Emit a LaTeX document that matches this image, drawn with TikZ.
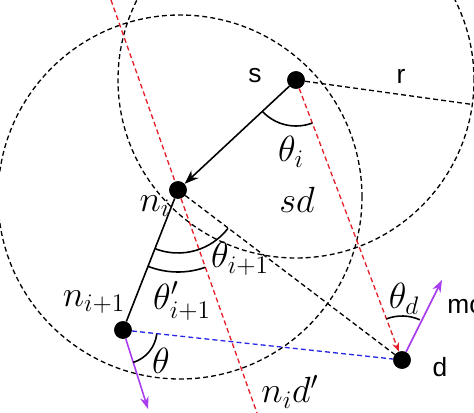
\documentclass[tikz,border=0pt]{standalone}
\usepackage{fontspec}
\newfontfamily\sansf{Liberation Sans}
\usetikzlibrary{arrows.meta,calc}
\definecolor{redl}{RGB}{230,30,40}
\definecolor{bluel}{RGB}{40,40,230}
\definecolor{purp}{RGB}{170,60,240}
\tikzset{
  circ/.style={draw=black,line width=0.75pt,dash pattern=on 2.8pt off 1.8pt},
  blkdash/.style={draw=black,line width=0.75pt,dash pattern=on 2.8pt off 1.8pt},
  reddash/.style={draw=redl,line width=0.75pt,dash pattern=on 2.8pt off 1.8pt},
  bluedash/.style={draw=bluel,line width=0.75pt,dash pattern=on 2.8pt off 1.8pt},
  purparrow/.style={draw=purp,line width=0.9pt,-{Stealth[length=7pt,width=5pt]}},
  solidline/.style={draw=black,line width=0.9pt},
  anglearc/.style={draw=black,line width=0.9pt},
  dot/.style={circle,fill=black,minimum size=10pt,inner sep=0pt},
  mlabel/.style={font=\fontsize{20}{23}\selectfont,inner sep=0pt},
  slabel/.style={font=\sansf\fontsize{15}{18}\selectfont,inner sep=0pt},
}
\begin{document}
\begin{tikzpicture}[x=0.02cm,y=0.02cm]
\useasboundingbox (0,0) rectangle (474,413);
\clip (0,0) rectangle (474,413);
% key points
\coordinate (s) at (296,333);
\coordinate (ni) at (178,223);
\coordinate (nip) at (123,83);
\coordinate (d) at (402,53);
\coordinate (cbig) at (180,216);
\coordinate (ntop) at (111,413);
\coordinate (nbot) at (257,0);
\coordinate (rend) at ($(s)+(-7.9:178)$);
\coordinate (pnip) at (148,4);
\coordinate (pd) at (442,133);
% dots (named nodes)
\node[dot] (sdot) at (s) {};
\node[dot] (nidot) at (ni) {};
\node[dot] (nipdot) at (nip) {};
\node[dot] (ddot) at (d) {};
% circles
\draw[circ] (s) circle[radius=178];
\draw[circ] (cbig) circle[radius=182];
% r line
\draw[blkdash] (sdot) -- (rend);
% red lines
\draw[reddash] (ntop) -- (nidot) -- (nbot);
\draw[reddash,-{Stealth[length=5pt,width=4pt]}] (sdot) -- (ddot);
% black dashed n_i -> d
\draw[blkdash] (nidot) -- (ddot);
% blue dashed
\draw[bluedash] (nipdot) -- (ddot);
% solid lines
\draw[solidline,-{Stealth[length=8pt,width=6pt]}] (sdot) -- (nidot);
\draw[solidline] (nidot) -- (nipdot);
% purple arrows
\draw[purparrow] (nipdot) -- (pnip);
\draw[purparrow] (ddot) -- (pd);
% angle arcs
\draw[anglearc] ($(s)+(223.7:46)$) arc[start angle=223.7,end angle=290.8,radius=46];
\draw[anglearc] ($(ni)+(248.6:63)$) arc[start angle=248.6,end angle=322.5,radius=63];
\draw[anglearc] ($(ni)+(248.6:82)$) arc[start angle=248.6,end angle=289.5,radius=82];
\draw[anglearc] ($(nip)+(287.4:34)$) arc[start angle=287.4,end angle=353.6,radius=34];
\draw[anglearc] ($(d)+(66:44)$) arc[start angle=66,end angle=110.8,radius=44];
% redraw dots on top
\fill (s) circle[radius=5pt];
\fill (ni) circle[radius=5pt];
\fill (nip) circle[radius=5pt];
\fill (d) circle[radius=5pt];
% labels
\node[slabel] (ls) at (255,337) {s};
\node[slabel] (lr) at (401,337) {r};
\node[slabel] (ld) at (440,46) {d};
\node[slabel,anchor=west] (lmo) at (447,106) {mo};
\node[mlabel] (lthi) at (291,261) {$\theta_i$};
\node[mlabel] (lsd) at (297,213) {$sd$};
\node[mlabel] (lni) at (155,207) {$n_i$};
\node[mlabel] (lthip) at (240,154) {$\theta_{i+1}$};
\node[mlabel] (lthipp) at (182,112) {$\theta'_{i+1}$};
\node[mlabel] (lnip) at (94,111) {$n_{i+1}$};
\node[mlabel] (lth) at (161,52) {$\theta$};
\node[mlabel] (lthd) at (404,114) {$\theta_d$};
\node[mlabel] (lnid) at (290,21) {$n_i d'$};
\end{tikzpicture}
\end{document}
